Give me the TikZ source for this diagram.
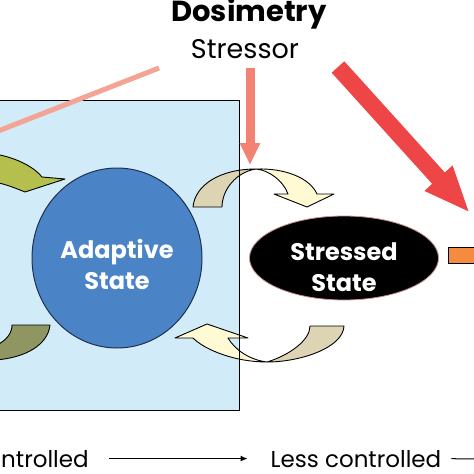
\documentclass[tikz,border=0pt]{standalone}
\usepackage{fontspec}
\setmainfont{Poppins}
\usetikzlibrary{arrows.meta,positioning,shapes.geometric}
\definecolor{boxblue}{HTML}{D2EBF8}
\definecolor{cellblue}{HTML}{4A84C6}
\definecolor{salmon}{HTML}{F28372}
\definecolor{palesalmon}{HTML}{F4A494}
\definecolor{hotred}{HTML}{EE4646}
\definecolor{tan}{HTML}{DDD4B4}
\definecolor{cream}{HTML}{FFFAD4}
\definecolor{leaf}{HTML}{B4BF4D}
\definecolor{moss}{HTML}{8F9662}
\definecolor{tangerine}{HTML}{F58B3E}
\definecolor{rim}{HTML}{C89090}
\tikzset{
  state/.style={ellipse, inner sep=0pt},
  statetext/.style={text=white, align=center, font=\fontsize{24}{31}\selectfont\bfseries},
  turn/.style={draw=black, line width=0.9pt, line join=round},
  axistext/.style={inner sep=0pt, font=\fontsize{23}{28}\selectfont}
}

\begin{document}
\begin{tikzpicture}[x=1pt,y=-1pt]
  \useasboundingbox (0,0) rectangle (474,474);
  \clip (0,0) rectangle (474,474);
  \fill[boxblue] (-20,100) rectangle (239,410);
  \draw[turn, fill=leaf] (-5,154) .. controls (18,158) and (35,168) .. (42,177) -- (65,179) -- (25,192) .. controls (15,188) and (8,185) .. (-5,182) -- cycle;
  \draw[turn, fill=moss] (12,325) -- (50,325) .. controls (48,345) and (25,358) .. (-5,360) -- (-5,346) .. controls (8,340) and (12,332) .. (12,325) -- cycle;
  \node[state, draw={rgb,255:red,31;green,48;blue,80}, line width=1pt, fill=cellblue, minimum width=170pt, minimum height=180pt] (adapt) at (117,258) {};
  \node[state, draw=rim, line width=0.8pt, fill=black, minimum width=189pt, minimum height=84pt] (stressed) at (344,258) {};
  \node[statetext] (adapttxt) at ([yshift=-6pt]adapt.center) {Adaptive\\State};
  \node[statetext] (stressedtxt) at ([yshift=-9pt]stressed.center) {Stressed\\State};
  \draw[line width=0.8pt, fill=tangerine] (448,247) rectangle (490,263);
  \coordinate (top) at (256,169);
  \coordinate (bottom) at (267,362);
  \draw[turn, fill=tan] (193,207) .. controls (195,185) and (220,169) .. (top) .. controls (236,172) and (222,190) .. (222,207) -- cycle;
  \draw[turn, fill=cream] (top) .. controls (285,168) and (310,178) .. (317,194) -- (334,194) -- (307,207) -- (274,194) -- (288,194) .. controls (283,180) and (268,170) .. (top) -- cycle;
  \draw[turn, fill=tan] (310,326) -- (344,326) .. controls (343,348) and (300,362) .. (bottom) .. controls (290,355) and (310,340) .. (310,326) -- cycle;
  \draw[turn, fill=cream] (bottom) .. controls (235,362) and (205,350) .. (193,338) -- (175,338) -- (207,324) -- (248,338) -- (228,338) .. controls (235,350) and (250,360) .. (bottom) -- cycle;
  \draw[line width=0.8pt] (-20,100) rectangle (239,410);
  \node[font=\fontsize{29}{32}\selectfont\bfseries] (dosimetry) at (249,14) {Dosimetry};
  \node[font=\fontsize{27}{30}\selectfont] (stressor) at (245,49) {Stressor};
  \coordinate (from1) at (159,68);
  \coordinate (from2) at (250,68);
  \coordinate (from3) at (338,67);
  \coordinate (offleft) at (-12,135);
  \coordinate (hit) at (250,165);
  \coordinate (offright) at (470,213);
  \draw[palesalmon, line width=5pt] (from1) -- (offleft);
  \draw[salmon, line width=9pt, -{Triangle[length=22pt,width=19pt]}] (from2) -- (hit);
  \draw[hotred, line width=17pt, -{Triangle[length=47pt,width=34pt]}] (from3) -- (offright);
  \node[axistext, anchor=base west] (ctl) at (1,467) {ntrolled};
  \node[axistext, anchor=base] (less) at (356,467) {Less controlled};
  \coordinate (edge) at (480,459);
  \draw[line width=1pt, -{Latex[length=7pt,width=6pt]}, shorten <=20pt, shorten >=23pt] (ctl.east) -- (less.west);
  \draw[line width=1pt, shorten <=10pt] (less.east) -- (edge);
\end{tikzpicture}
\end{document}
